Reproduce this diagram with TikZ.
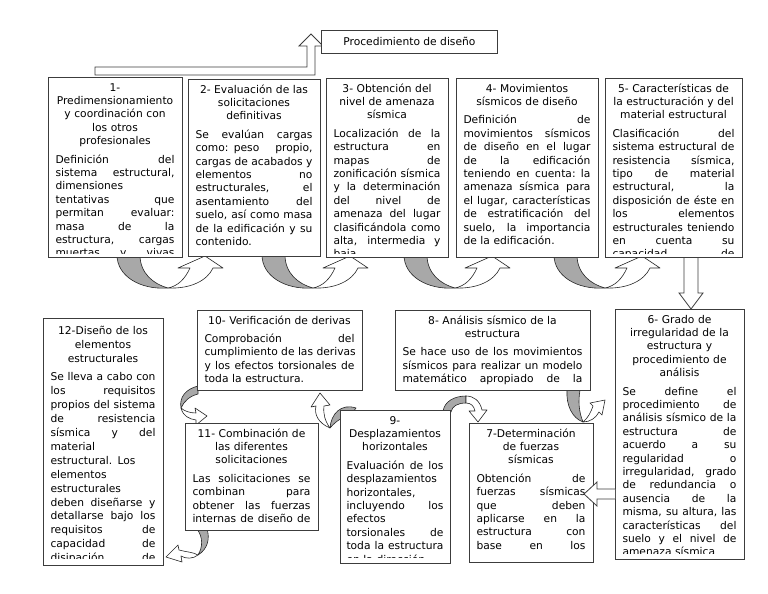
\documentclass[tikz,border=0pt]{standalone}
\usepackage{fontspec}
\setmainfont{DejaVu Sans}
\hbadness=10000
\hfuzz=30pt
\vbadness=10000
\definecolor{bordc}{RGB}{60,60,60}
\definecolor{arrgray}{RGB}{168,168,168}
\newlength\boxtw
\newcommand\jl[1]{\hbox to\boxtw{\spaceskip=0.318em plus 1fil\relax #1}}
\newcommand\jw[1]{\hbox to\boxtw{#1\hfil}}
\newcommand\bodygap{\par\vspace{5pt}}
\newcommand\mkbox[9]{%
  \pgfmathsetmacro\bw{#4-#2}%
  \pgfmathsetmacro\bh{#5-#3}%
  \pgfmathsetmacro\bcx{(#2+#4)/2}%
  \pgfmathsetmacro\bty{#3+#7}%
  \pgfmathsetmacro\bcy{#5-#8}%
  \node[boxst, minimum width=\bw pt, minimum height=\bh pt] (#1) at (#2,#3) {};
  \begin{scope}
    \clip (#2,#3) rectangle (#4,\bcy);
    \node[txtst, text width=#6pt] (#1t) at (\bcx,\bty) {\setlength\boxtw{#6pt}#9};
  \end{scope}%
}
\begin{document}
\begin{tikzpicture}[x=1pt,y=-1pt,
  boxst/.style={draw=bordc, line width=0.8pt, fill=white, inner sep=0pt, anchor=north west},
  txtst/.style={inner sep=0pt, anchor=north, font=\fontsize{10.7}{13.4}\selectfont},
  grayband/.style={fill=arrgray, draw=black!85, line width=0.6pt, line join=round},
  whiteband/.style={fill=white, draw=black!85, line width=0.6pt, line join=round},
  blockarr/.style={fill=white, draw=bordc, line width=0.8pt, line join=miter}
]
\useasboundingbox (0,0) rectangle (768,594);

% bent-up arrow to the title
\draw[blockarr] (95,75) -- (95,67) -- (307,67) -- (307,46) -- (299,46) -- (311,34) -- (323,46) -- (315,46) -- (315,75) -- cycle;

% curved arrows of the top row
\foreach \s in {0,145,287,437}{
  \begin{scope}[xshift=\s pt]
    \draw[grayband] (117,255) .. controls (117,276) and (140,290) .. (168,288) .. controls (153,284) and (140,273) .. (140,255) -- cycle;
    \draw[whiteband] (168,288) .. controls (190,289) and (207,281) .. (213,268) -- (223,268) -- (205,256) -- (178,268) -- (190,268) .. controls (185,279) and (178,286) .. (168,288) -- cycle;
  \end{scope}
}

% block arrow 5 -> 6
\draw[blockarr] (684,257) -- (684,293) -- (679,293) -- (691,309) -- (703,293) -- (698,293) -- (698,257) -- cycle;

% curved arrows of the bottom row
\draw[grayband] (198,386) .. controls (186,389) and (179,397) .. (181,408) .. controls (184,401) and (190,396) .. (198,394) -- cycle;
\draw[whiteband] (181,408) .. controls (183,416) and (189,419) .. (196,420) -- (196,425) -- (207,416) -- (195,408) -- (196,413) .. controls (190,413) and (184,411) .. (181,408) -- cycle;

\draw[grayband] (356,408) .. controls (341,403) and (331,414) .. (330,428) .. controls (336,421) and (342,417) .. (350,416) -- cycle;
\draw[whiteband] (330,428) .. controls (318,423) and (314,414) .. (316,406) -- (311,407) -- (320,393) -- (330,405) -- (324,406) .. controls (323,414) and (325,421) .. (330,428) -- cycle;

\draw[grayband] (443,412) .. controls (444,401) and (455,396) .. (466,396) -- (466,403) .. controls (458,403) and (452,406) .. (451,412) -- cycle;
\draw[whiteband] (466,396) .. controls (474,396) and (480,401) .. (482,410) -- (487,410) -- (478,422) -- (469,411) -- (475,411) .. controls (474,406) and (471,403) .. (466,403) -- cycle;

\draw[grayband] (567,390) .. controls (566,405) and (572,418) .. (583,422) .. controls (579,412) and (578,402) .. (580,390) -- cycle;
\draw[whiteband] (583,422) .. controls (588,418) and (591,412) .. (593,406) -- (590,403) -- (605,400) -- (602,415) -- (599,412) .. controls (596,418) and (590,422) .. (583,422) -- cycle;

\draw[grayband] (197,529) .. controls (203,537) and (203,547) .. (198,555) .. controls (208,549) and (210,538) .. (207,529) -- cycle;
\draw[whiteband] (198,555) .. controls (193,559) and (186,559) .. (181,556) -- (182,562) -- (166,557) -- (178,545) -- (179,550) .. controls (186,552) and (193,552) .. (198,555) -- cycle;

% boxes
\mkbox{b1}{48}{77}{182}{257}{119}{4.6}{3.5}{{\centering\strut 1-\\Predimensionamiento\\y coordinación con\\los otros\\profesionales\par}\bodygap
\jl{Definición del}\jl{sistema estructural,}\jw{dimensiones}\jl{tentativas que}\jl{permitan evaluar:}\jl{masa de la}\jl{estructura, cargas}\jl{muertas y vivas}}

\mkbox{b2}{188}{79}{320}{256}{117}{4.6}{3.5}{{\centering\strut 2- Evaluación de las\\solicitaciones\\definitivas\par}\bodygap
\jl{Se evalúan cargas}\jl{como: peso propio,}\jl{cargas de acabados y}\jl{elementos no}\jl{estructurales, el}\jl{asentamiento del}\jl{suelo, así como masa}\jl{de la edificación y su}\jw{contenido.}}

\mkbox{b3}{326}{78}{448}{257}{107}{4.6}{3.5}{{\centering\strut 3- Obtención del\\nivel de amenaza\\sísmica\par}\bodygap
\jl{Localización de la}\jl{estructura en}\jl{mapas de}\jl{zonificación sísmica}\jl{y la determinación}\jl{del nivel de}\jl{amenaza del lugar}\jl{clasificándola como}\jl{alta, intermedia y}\jw{baja.}}

\mkbox{b4}{456}{78}{598}{257}{127}{4.6}{3.5}{{\centering\strut 4- Movimientos\\sísmicos de diseño\par}\bodygap
\jl{Definición de}\jl{movimientos sísmicos}\jl{de diseño en el lugar}\jl{de la edificación}\jl{teniendo en cuenta: la}\jl{amenaza sísmica para}\jl{el lugar, características}\jl{de estratificación del}\jl{suelo, la importancia}\jw{de la edificación.}}

\mkbox{b5}{605}{78}{742}{257}{122}{4.6}{3.5}{{\centering\strut 5- Características de\\la estructuración y del\\material estructural\par}\bodygap
\jl{Clasificación del}\jl{sistema estructural de}\jl{resistencia sísmica,}\jl{tipo de material}\jl{estructural, la}\jl{disposición de éste en}\jl{los elementos}\jl{estructurales teniendo}\jl{en cuenta su}\jl{capacidad de}}

\mkbox{b6}{615}{309}{744}{559}{114}{4.6}{5.5}{{\centering\strut 6- Grado de\\irregularidad de la\\estructura y\\procedimiento de\\análisis\par}\bodygap
\jl{Se define el}\jl{procedimiento de}\jl{análisis sísmico de la}\jl{estructura de}\jl{acuerdo a su}\jl{regularidad o}\jl{irregularidad, grado}\jl{de redundancia o}\jl{ausencia de la}\jl{misma, su altura, las}\jl{características del}\jl{suelo y el nivel de}\jw{amenaza sísmica}}

\mkbox{b7}{469}{423}{593}{562}{109}{4.6}{3.5}{{\centering\strut 7-Determinación\\de fuerzas\\sísmicas\par}\bodygap
\jl{Obtención de}\jl{fuerzas sísmicas}\jl{que deben}\jl{aplicarse en la}\jl{estructura con}\jl{base en los}}

\mkbox{b8}{395}{310}{590}{390}{180}{4.6}{3.5}{{\centering\strut 8- Análisis sísmico de la\\estructura\par}\bodygap
\jl{Se hace uso de los movimientos}\jl{sísmicos para realizar un modelo}\jl{matemático apropiado de la}}

\mkbox{b9}{340}{410}{450}{563}{97}{4.6}{6}{{\centering\strut 9-\\Desplazamientos\\horizontales\par}\bodygap
\jl{Evaluación de los}\jw{desplazamientos}\jw{horizontales,}\jl{incluyendo los}\jw{efectos}\jl{torsionales de}\jl{toda la estructura}\jw{en la dirección}}

\mkbox{b10}{197}{310}{362}{390}{150}{4.6}{3.5}{{\centering\strut 10- Verificación de derivas\par}\bodygap
\jl{Comprobación del}\jl{cumplimiento de las derivas}\jl{y los efectos torsionales de}\jw{toda la estructura.}}

\mkbox{b11}{185}{423}{318}{530}{118}{4.6}{3.5}{{\centering\strut 11- Combinación de\\las diferentes\\solicitaciones\par}\bodygap
\jl{Las solicitaciones se}\jl{combinan para}\jl{obtener las fuerzas}\jl{internas de diseño de}}

\mkbox{b12}{43}{318}{163}{565}{105}{6.3}{6.5}{\fontsize{10.7}{13.9}\selectfont{\centering\strut 12-Diseño de los\\elementos\\estructurales\par}\bodygap
\jl{Se lleva a cabo con}\jl{los requisitos}\jl{propios del sistema}\jl{de resistencia}\jl{sísmica y del}\jw{material}\jl{estructural. Los}\jw{elementos}\jw{estructurales}\jl{deben diseñarse y}\jl{detallarse bajo los}\jl{requisitos de}\jl{capacidad de}\jl{disipación de}}

% title box
\node[boxst, minimum width=176pt, minimum height=23pt] (hdr) at (321,30) {};
\node[txtst, anchor=center] (hdrt) at (hdr.center) {Procedimiento de diseño};

% block arrow 6 -> 7
\draw[blockarr] (615,489) -- (597,489) -- (597,482) -- (584,494) -- (597,506) -- (597,499) -- (615,499);
\end{tikzpicture}
\end{document}
